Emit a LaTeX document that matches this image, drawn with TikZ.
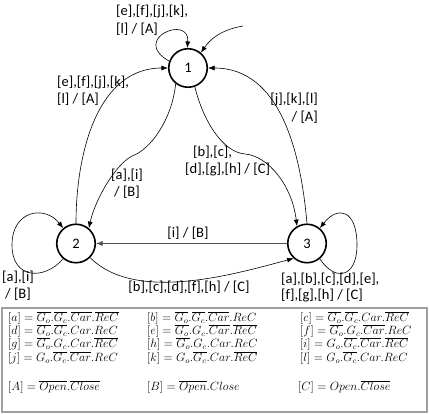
\documentclass[tikz,border=0pt]{standalone}
\usepackage{fontspec}
\newfontfamily\lblfont{Carlito}
\usetikzlibrary{arrows.meta}
\definecolor{boxgray}{RGB}{160,160,160}
\definecolor{linegray}{RGB}{80,80,80}
\newcommand\ob[1]{\overline{#1}}
\begin{document}
\begin{tikzpicture}[x=1pt,y=1pt,
  state/.style={circle,draw,line width=1.6pt,minimum size=38.5pt,inner sep=0pt,font=\lblfont\fontsize{14.5}{17.5}\selectfont},
  arr/.style={-{Latex[length=6.5pt,width=5pt]},line width=0.6pt},
  lbl/.style={font=\lblfont\fontsize{14.5}{17.5}\selectfont,inner sep=0pt},
  eq/.style={font=\fontsize{12}{14}\selectfont,anchor=west,inner sep=0pt}]
\useasboundingbox (0,0) rectangle (429,414);

% states
\node[state] (s1) at (188,346) {1};
\node[state] (s2) at (76,170.5) {2};
\node[state] (s3) at (307,170.5) {3};
\coordinate (init) at (243,388);

% initial arrow
\draw[arr] (init) to[out=190,in=55] (s1.50);
% self loop 1
\draw[arr] (s1.160) .. controls (130,375) and (190,400) .. (s1.92);
% 2 -> 1
\draw[arr] (s2.90) to[out=90,in=180] (s1.180);
% 1 -> 2
\draw[arr] (s1.232) .. controls (172,294) and (150,264) .. (132,258)
                    .. controls (115,249) and (95,214) .. (s2.50);
% 1 -> 3
\draw[arr] (s1.290) .. controls (203,294) and (222,262) .. (245,260)
                    .. controls (268,258) and (292,229) .. (s3.120);
% 3 -> 1
\draw[arr] (s3.90) to[out=95,in=0] (s1.0);
% 3 -> 2
\draw[arr,draw=linegray] (s3.180) -- (s2.0);
% 2 -> 3
\draw[arr] (s2.-45) to[out=-45,in=195,looseness=0.8] (s3.228);
% self loop 2
\draw[arr] (s2.230) .. controls (45,134) and (12,134) .. (12,169)
                    .. controls (12,204) and (45,209) .. (s2.130);
% self loop 3
\draw[arr] (s3.-50) .. controls (335,132) and (357,136) .. (357,169)
                    .. controls (357,204) and (338,209) .. (s3.50);

% labels
\node[lbl,anchor=west,align=left] (l1) at (116,393.5) {[e],[f],[j],[k],\\{}[l] / [A]};
\node[lbl,anchor=west,align=left] (l2) at (57,323) {[e],[f],[j],[k],\\{}[l] / [A]};
\node[lbl,align=center] (l3) at (127,230) {[a],[i]\\/ [B]};
\node[lbl,anchor=west,align=left] (l4) at (185,253) {\hspace*{8pt}[b],[c],\\{}[d],[g],[h] / [C]};
\node[lbl,anchor=east,align=right] (l5) at (318,305.5) {[j],[k],[l]\\/ [A]};
\node[lbl] (l6) at (188,181) {[i] / [B]};
\node[lbl] (l7) at (189,127) {[b],[c],[d],[f],[h] / [C]};
\node[lbl,align=center] (l8) at (18,128) {[a],[i]\\/ [B]};
\node[lbl,anchor=west,align=left,font=\lblfont\fontsize{14.5}{15.5}\selectfont] (l9) at (281,126.5) {[a],[b],[c],[d],[e],\\{}[f],[g],[h] / [C]};

% legend box
\draw[line width=2pt,draw=boxgray] (2,2) rectangle (427,106);

\node[eq] (ea) at (8,96) {$[a]=\ob{G_o}.\ob{G_c}.\ob{Car}.\ob{ReC}$};
\node[eq] (eb) at (147,96) {$[b]=\ob{G_o}.\ob{G_c}.\ob{Car}.ReC$};
\node[eq] (ec) at (300,96) {$[c]=\ob{G_o}.\ob{G_c}.Car.\ob{ReC}$};
\node[eq] (ed) at (8,83) {$[d]=\ob{G_o}.\ob{G_c}.Car.ReC$};
\node[eq] (ee) at (147,83) {$[e]=\ob{G_o}.G_c.\ob{Car}.\ob{ReC}$};
\node[eq] (ef) at (300,83) {$[f]=\ob{G_o}.G_c.\ob{Car}.ReC$};
\node[eq] (eg) at (8,70) {$[g]=\ob{G_o}.G_c.Car.\ob{ReC}$};
\node[eq] (eh) at (147,70) {$[h]=\ob{G_o}.G_c.Car.ReC$};
\node[eq] (ei) at (300,70) {$[i]=G_o.\ob{G_c}.\ob{Car}.\ob{ReC}$};
\node[eq] (ej) at (8,56) {$[j]=G_o.\ob{G_c}.\ob{Car}.ReC$};
\node[eq] (ek) at (147,56) {$[k]=G_o.\ob{G_c}.Car.\ob{ReC}$};
\node[eq] (el) at (300,56) {$[l]=G_o.\ob{G_c}.Car.ReC$};
\node[eq] (eA) at (8,27) {$[A]=\ob{Open}.\ob{Close}$};
\node[eq] (eB) at (147,27) {$[B]=\ob{Open}.Close$};
\node[eq] (eC) at (298,27) {$[C]=Open.\ob{Close}$};
\end{tikzpicture}
\end{document}
